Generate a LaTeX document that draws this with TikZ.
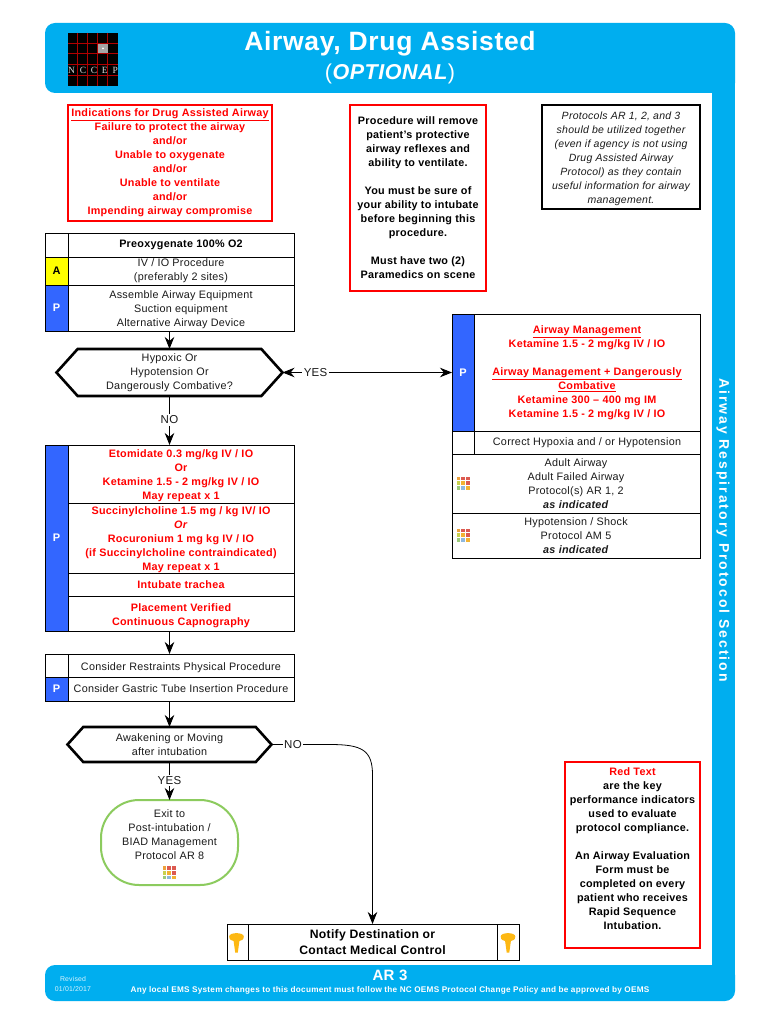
\documentclass[tikz,border=0pt]{standalone}
\usepackage{fontspec}
\setmainfont[LetterSpace=2.5]{Liberation Sans}
\newfontfamily\spaced[LetterSpace=14]{Liberation Sans}
\newfontfamily\spacedb[LetterSpace=3]{Liberation Sans}
\newfontfamily\logofont{Liberation Serif}
\usetikzlibrary{shapes.symbols,arrows.meta}
\definecolor{emscyan}{HTML}{00AEEF}
\definecolor{pblue}{HTML}{3366FF}
\definecolor{ayellow}{HTML}{FFFF00}
\definecolor{kred}{HTML}{FF0000}
\definecolor{egreen}{HTML}{8CCB5E}
\definecolor{tgold}{HTML}{FDB813}
\definecolor{bodytext}{HTML}{1A1A1A}
\definecolor{icA}{HTML}{EDA23C}
\definecolor{icB}{HTML}{DC5A50}
\definecolor{icC}{HTML}{C9D24E}
\definecolor{icD}{HTML}{F2B233}
\definecolor{icE}{HTML}{9CCB7A}
\definecolor{icF}{HTML}{8FB8DE}
\newcommand{\fs}[2]{\fontsize{#1}{#2}\selectfont}
\newcommand{\Sh}{\rule{0pt}{11.5pt}}
% cell: name, x1, y1, x2, y2, style, text
\newcommand{\cell}[7]{\node[cellbox,#6,minimum width={(#4-#2)*1pt},minimum height={(#5-#3)*1pt}] (#1) at ({(#2+#4)/2},{(#3+#5)/2}) {#7};}
\tikzset{
  x=1pt,y=-1pt,
  cellbox/.style={draw=black,line width=.8pt,inner sep=0pt,outer sep=0pt,align=center,font=\fs{10.8}{14},text=bodytext},
  pcol/.style={fill=pblue,text=white,font=\fs{11}{14}\bfseries},
  acol/.style={fill=ayellow,text=black,font=\fs{11}{14}\bfseries},
  redbold/.style={text=kred,font=\fs{10.8}{14}\bfseries},
  blackbold/.style={text=black,font=\fs{10.8}{14}\bfseries},
  redframe/.style={draw=kred,line width=1.1pt},
  hexbox/.style={shape=signal,signal to=east and west,draw=black,line width=2.6pt,inner sep=0pt,outer sep=0pt,align=center,font=\fs{10.8}{14},text=bodytext},
  flow/.style={draw=black,line width=.8pt,-{Stealth[length=12pt,width=9.5pt]}},
  flowboth/.style={draw=black,line width=.8pt,{Stealth[length=12pt,width=9.5pt]}-{Stealth[length=12pt,width=9.5pt]}},
  flowlabel/.style={fill=white,inner sep=1.5pt,font=\fs{11.5}{14},text=bodytext},
  gridicon/.pic={
    \foreach \cx/\cy/\cc in {0/0/icA,1/0/icB,2/0/icB,
                             0/1/icC,1/1/icD,2/1/icB,
                             0/2/icE,1/2/icF,2/2/icD}
      \fill[\cc] (\cx*4.6-6.7,\cy*4.6-6.7) rectangle ++(3.6,3.6);
  },
  caduceus/.pic={
    \fill[tgold] (-7.3,-6) .. controls (-7.3,-10.5) and (7.3,-10.5) .. (7.3,-6) .. controls (7.3,-2.2) and (4,-2) .. (2.9,-1.5) -- (1.3,10) -- (-1.3,10) -- (-2.9,-1.5) .. controls (-4,-2) and (-7.3,-2.2) .. (-7.3,-6) -- cycle;
  },
}
\begin{document}
\begin{tikzpicture}[x=1pt,y=-1pt]
\useasboundingbox (0,0) rectangle (768,1024);
\fill[white] (0,0) rectangle (768,1024);
% frame
\fill[emscyan,rounded corners=10pt] (45,23) rectangle (735,93);
\fill[emscyan,rounded corners=10pt] (45,965) rectangle (735,1001);
\fill[emscyan] (712,60) rectangle (735,985);
\node[text=white,font=\fs{26.5}{30}\bfseries,inner sep=0pt] (title) at (390,44) {Airway, Drug Assisted};
\node[text=white,font=\fs{21.5}{24},inner sep=0pt] (subtitle) at (390,74) {(\textbf{\textit{OPTIONAL}})};
\node[text=white,font=\fs{14}{14}\spaced\bfseries,rotate=-90,inner sep=0pt] (sect) at (723,530) {Airway Respiratory Protocol Section};
\node[text=white,font=\fs{15}{16}\bfseries,inner sep=0pt] (ar) at (390,975.5) {AR 3};
\node[text=white,font=\fs{8.2}{9}\spacedb\bfseries,inner sep=0pt] (policy) at (390,990) {Any local EMS System changes to this document must follow the NC OEMS Protocol Change Policy and be approved by OEMS};
\node[text=white!85!emscyan,font=\fs{6.9}{9},inner sep=0pt,align=center] (rev) at (73,984) {Revised\\[.5pt]01/01/2017};
% logo
\fill[black] (68,33) rectangle (118,86);
\foreach \v in {77,87,97,107} \draw[red!70!black,line width=.7pt] (\v,33) -- (\v,86);
\foreach \v in {43,53,64,75} \draw[red!70!black,line width=.7pt] (68,\v) -- (118,\v);
\fill[gray!70] (98,44) rectangle (108,53);
\fill[white] (103,48.5) circle (1pt);
\node[text=white!85!black,font=\fs{9.5}{9}\logofont,inner sep=0pt] (logo) at (93,70) {N\,\,\,C\,\,\,C\,\,\,E\,\,\,P};
% info boxes
\cell{ind}{68}{105}{272}{221}{redframe,redbold}{\underline{Indications for Drug Assisted Airway}\\Failure to protect the airway\\and/or\\Unable to oxygenate\\and/or\\Unable to ventilate\\and/or\\Impending airway compromise}
\cell{proc}{350}{105}{486}{291}{redframe,blackbold}{Procedure will remove\\patient's protective\\airway reflexes and\\ability to ventilate.\\[14pt]You must be sure of\\your ability to intubate\\before beginning this\\procedure.\\[14pt]Must have two (2)\\Paramedics on scene}
\cell{prot}{542}{105}{700}{209}{line width=1.1pt,font=\fs{10.5}{14}\itshape}{\Sh Protocols AR 1, 2, and 3\\should be utilized together\\(even if agency is not using\\Drug Assisted Airway\\Protocol) as they contain\\useful information for airway\\management.}
\cell{redtext}{565}{762}{700}{948}{redframe}{}
\node[align=center,inner sep=0pt,text=black,font=\fs{10.8}{14}\bfseries] (redtexttxt) at (632.5,848.5) {\textcolor{kred}{Red Text}\\are the key\\performance indicators\\used to evaluate\\protocol compliance.\\[14pt]An Airway Evaluation\\Form must be\\completed on every\\patient who receives\\Rapid Sequence\\Intubation.};
% left block 1
\cell{a0}{45}{233}{68}{257}{}{}
\cell{a1}{68}{233}{294}{257}{blackbold}{Preoxygenate 100\% O2}
\cell{b0}{45}{257}{68}{285}{acol}{A}
\cell{b1}{68}{257}{294}{285}{}{IV / IO Procedure\\(preferably 2 sites)}
\cell{c0}{45}{285}{68}{331}{pcol}{P}
\cell{c1}{68}{285}{294}{331}{}{\Sh Assemble Airway Equipment\\Suction equipment\\Alternative Airway Device}
% hexagon 1
\node[hexbox,minimum width=226pt,minimum height=47pt,signal pointer angle=96] (hex1) at (169.5,372.5) {Hypoxic Or\\Hypotension Or\\Dangerously Combative?};
% left block 2
\cell{d0}{45}{445}{68}{631}{pcol}{P}
\cell{d1}{68}{445}{294}{503}{redbold}{\Sh Etomidate 0.3 mg/kg IV / IO\\Or\\Ketamine 1.5 - 2 mg/kg IV / IO\\May repeat x 1}
\cell{d2}{68}{503}{294}{573}{redbold}{\Sh Succinylcholine 1.5 mg / kg IV/ IO\\\textit{Or}\\Rocuronium 1 mg kg IV / IO\\(if Succinylcholine contraindicated)\\May repeat x 1}
\cell{d3}{68}{573}{294}{596}{redbold}{Intubate trachea}
\cell{d4}{68}{596}{294}{631}{redbold}{\Sh Placement Verified\\Continuous Capnography}
% left block 3
\cell{e0}{45}{654}{68}{677}{}{}
\cell{e1}{68}{654}{294}{677}{}{\Sh Consider Restraints Physical Procedure}
\cell{f0}{45}{677}{68}{701}{pcol}{P}
\cell{f1}{68}{677}{294}{701}{}{Consider Gastric Tube Insertion Procedure}
% hexagon 2
\node[hexbox,minimum width=204pt,minimum height=35pt,signal pointer angle=96] (hex2) at (169.5,744.5) {Awakening or Moving\\after intubation};
% exit
\node[draw=egreen,line width=2pt,rounded corners=38pt,minimum width=137pt,minimum height=85pt,inner sep=0pt,outer sep=0pt] (exit) at (169.5,842.5) {};
\node[align=center,font=\fs{10.8}{14},text=bodytext,inner sep=0pt] (exittext) at (169.5,835) {Exit to\\Post-intubation /\\BIAD Management\\Protocol AR 8};
\pic at (169.5,873) {gridicon};
% right block
\cell{g0}{452}{314}{474}{431}{pcol}{P}
\cell{g1}{474}{314}{700}{431}{redbold}{\underline{Airway Management}\\Ketamine 1.5 - 2 mg/kg IV / IO\\[14pt]\underline{Airway Management + Dangerously}\\\underline{Combative}\\Ketamine 300 -- 400 mg IM\\Ketamine 1.5 - 2 mg/kg IV / IO}
\cell{h0}{452}{431}{474}{454}{}{}
\cell{h1}{474}{431}{700}{454}{}{Correct Hypoxia and / or Hypotension}
\cell{i1}{452}{454}{700}{513}{}{Adult Airway\\Adult Failed Airway\\Protocol(s) AR 1, 2\\\textbf{\textit{as indicated}}}
\cell{j1}{452}{513}{700}{558}{}{Hypotension / Shock\\Protocol AM 5\\\textbf{\textit{as indicated}}}
\pic at (463.5,483.5) {gridicon};
\pic at (463.5,535.5) {gridicon};
% notify
\cell{n0}{227}{924}{248}{960}{}{}
\cell{n1}{248}{924}{497}{960}{font=\fs{12.2}{15.5}\bfseries,text=black}{Notify Destination or\\Contact Medical Control}
\cell{n2}{497}{924}{519}{960}{}{}
\pic at (236.5,942.5) {caduceus};
\pic at (508,942.5) {caduceus};
% connectors
\draw[flow] (hex1.north |- c1.south) -- (hex1.north);
\draw[flow] (hex1.south) -- (hex1.south |- d1.north) node[flowlabel,pos=.49] (nolab) {NO};
\draw[flowboth] (hex1.east) -- (g0.west |- hex1.east) node[flowlabel,pos=.195] (yeslab) {YES};
\draw[flow] (hex1.north |- d4.south) -- (hex1.north |- e1.north);
\draw[flow] (hex2.north |- f1.south) -- (hex2.north);
\draw[flow] (hex2.south) -- (exit.north) node[flowlabel,pos=.48] (yes2) {YES};
\draw[flow] (hex2.east) -- (330,744.5) .. controls (362,744.5) and (372.5,750) .. (372.5,775) -- (n1.north);
\node[flowlabel] (no2) at (293,744.5) {NO};
\end{tikzpicture}
\end{document}
